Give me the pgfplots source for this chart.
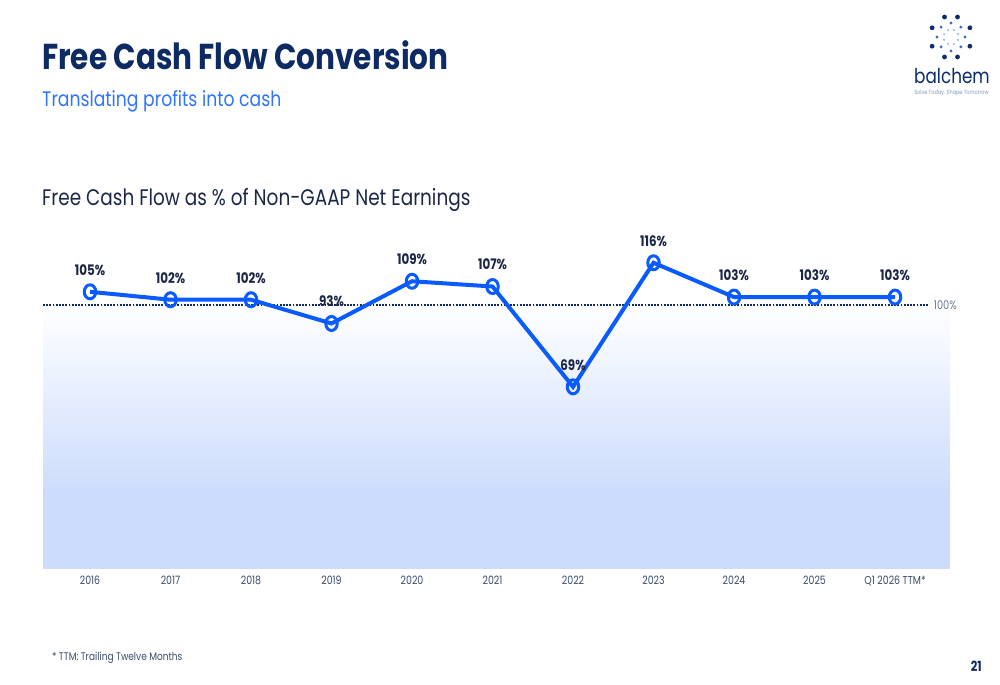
\documentclass[border=0pt]{standalone}
\usepackage{fontspec}
\setmainfont{Poppins}
\usepackage{pgfplots}
\pgfplotsset{compat=1.18}
\usetikzlibrary{calc}

\definecolor{navy}{HTML}{0D2A62}
\definecolor{labnavy}{HTML}{1C2748}
\definecolor{subblue}{HTML}{2F74FF}
\definecolor{lineblue}{HTML}{0A5BFF}
\definecolor{tickgrey}{HTML}{3A4A6B}
\definecolor{refgrey}{HTML}{6A7A99}
\definecolor{paleblue}{HTML}{CCDCFC}
\definecolor{logodark}{HTML}{0B2D6B}
\definecolor{logomid}{HTML}{3D6FB6}
\definecolor{logolight}{HTML}{9DB9E2}
\definecolor{slogan}{HTML}{7F95B8}

% narrow every piece of text the same way as the slide
\newcommand{\sq}[1]{\scalebox{0.82}[1]{#1}}
\newcommand{\fs}[1]{\fontsize{#1bp}{#1bp}\selectfont}

\pgfplotstableread{
x  y
0  105
1  102
2  102
3  93
4  109
5  107
6  69
7  116
8  103
9  103
10 103
}\fcfdata

\begin{document}
\begin{tikzpicture}
\useasboundingbox (0,0) rectangle (1000bp,685bp);

% headings
\node[anchor=base west, inner sep=0pt, text=navy] at (42bp,615bp)
  {\sq{\fs{36}\bfseries Free Cash Flow Conversion}};
\node[anchor=base west, inner sep=0pt, text=subblue] at (42bp,578bp)
  {\sq{\fs{21}Translating profits into cash}};
\node[anchor=base west, inner sep=0pt, text=labnavy] at (42bp,479bp)
  {\sq{\fs{22.5}Free Cash Flow as \% of Non-GAAP Net Earnings}};

% logo
\foreach \a in {26,72,108,154,206,252,288,334}
  \fill[logodark] ($(951bp,648bp)+(\a:21bp)$) circle (2.4bp);
\foreach \a in {0,45,...,315}
  \fill[logomid] ($(951bp,648bp)+(\a:14bp)$) circle (1.6bp);
\foreach \a in {22.5,67.5,...,337.5}
  \fill[logolight] ($(951bp,648bp)+(\a:7.5bp)$) circle (1.2bp);
\node[anchor=base, inner sep=0pt, text=logodark] at (952bp,601bp) {\sq{\fs{20.5}balchem}};
\node[anchor=base, inner sep=0pt, text=slogan] at (952bp,590.5bp) {\sq{\fs{6}Solve Today. Shape Tomorrow.}};

% footer
\node[anchor=base west, inner sep=0pt, text=tickgrey] at (52bp,25bp)
  {\sq{\fs{11}* TTM: Trailing Twelve Months}};
\node[anchor=base east, inner sep=0pt, text=navy] at (982bp,14bp)
  {\sq{\fs{14}\bfseries 21}};

\begin{axis}[
  at={(43bp,116bp)}, anchor=south west,
  scale only axis, width=907bp, height=316.8bp,
  xmin=-0.584, xmax=10.683, ymin=0, ymax=120,
  axis line style={draw=none},
  clip=false,
  xtick={0,...,10},
  xticklabels={\sq{2016},\sq{2017},\sq{2018},\sq{2019},\sq{2020},\sq{2021},
    \sq{2022},\sq{2023},\sq{2024},\sq{2025},\sq{Q1 2026 TTM*}},
  ytick=\empty,
  major tick length=0pt,
  xticklabel style={anchor=north, inner sep=0pt, yshift=-7bp,
    text=tickgrey, font=\fs{11.5}},
  /pgf/number format/assume math mode=true,
]
% shaded backdrop
\fill[paleblue] (axis cs:-0.584,0) rectangle (axis cs:10.683,28);
\fill[top color=white, bottom color=paleblue, draw=none]
  (axis cs:-0.584,28) rectangle (axis cs:10.683,100.5);

% 100% reference
\draw[navy, line width=1.7bp, dash pattern=on 1.7bp off 1.5bp]
  (axis cs:-0.584,100) -- (axis cs:10.41,100);
\node[anchor=west, inner sep=0pt, text=refgrey] at (axis cs:10.48,100)
  {\sq{\fs{12}100\%}};

\addplot[
  lineblue, line width=4bp,
  mark=o, mark size=7bp,
  mark options={line width=3bp, xscale=0.82, solid},
  nodes near coords={\sq{\fs{14.5}\bfseries\pgfmathprintnumber[fixed,precision=0]{\pgfplotspointmeta}\%}},
  every node near coord/.style={anchor=south, inner sep=0pt, yshift=15bp, text=labnavy},
] table[x=x, y=y] {\fcfdata};
\end{axis}
\end{tikzpicture}
\end{document}
